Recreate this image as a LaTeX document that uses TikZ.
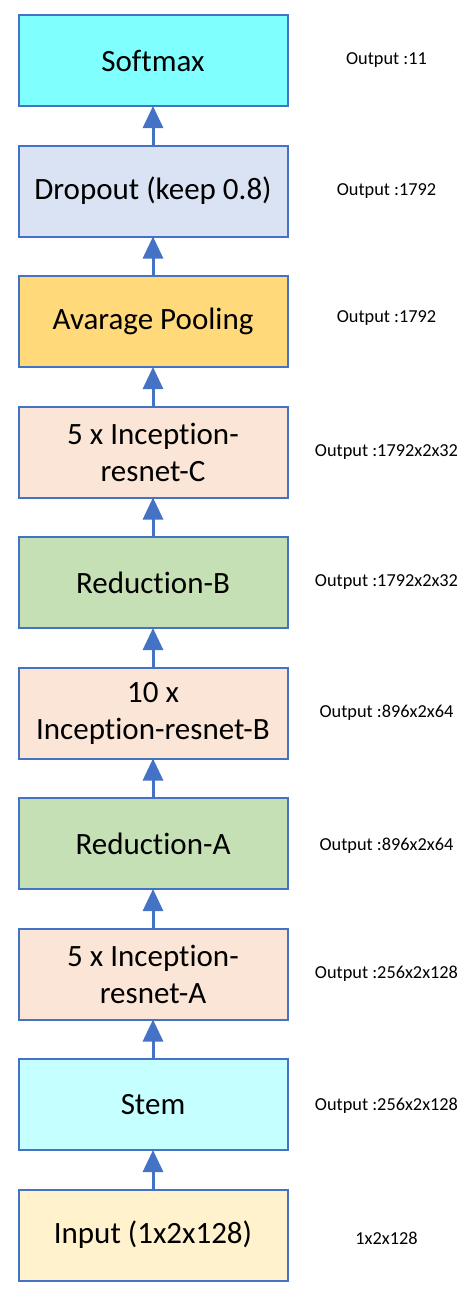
\documentclass[tikz,border=0pt]{standalone}
\usepackage{fontspec}
\setmainfont{Carlito}[Ligatures={NoCommon,NoRare,NoDiscretionary}]
\usetikzlibrary{arrows.meta}
\definecolor{bord}{HTML}{4472C4}
\definecolor{cSoft}{HTML}{80FFFF}
\definecolor{cDrop}{HTML}{DAE3F3}
\definecolor{cPool}{HTML}{FFD97A}
\definecolor{cInc}{HTML}{FBE5D6}
\definecolor{cRed}{HTML}{C5E0B4}
\definecolor{cStem}{HTML}{C5FFFF}
\definecolor{cIn}{HTML}{FFF2CC}
\tikzset{
  blk/.style={draw=bord, line width=2pt, minimum width=269pt, minimum height=91pt,
    inner sep=0pt, align=center, font=\fontsize{31}{37}\selectfont},
  lbl/.style={font=\fontsize{18.3}{22}\selectfont, inner sep=0pt},
  arr/.style={draw=bord, line width=3pt, -{Triangle[width=20pt,length=22pt]}, shorten <=-1pt, shorten >=-1pt}
}
\begin{document}
\begin{tikzpicture}[x=1pt,y=-1pt]
\useasboundingbox (0,0) rectangle (474,1293);
\node[blk, fill=cSoft] (b1) at (153,60.5) {Softmax};
\node[blk, fill=cDrop] (b2) at (153,191) {Dropout (keep 0.8)};
\node[blk, fill=cPool] (b3) at (153,321.5) {Avarage Pooling};
\node[blk, fill=cInc]  (b4) at (153,452) {5 x Inception-\\resnet-C};
\node[blk, fill=cRed]  (b5) at (153,582.5) {Reduction-B};
\node[blk, fill=cInc]  (b6) at (153,713) {10 x\\Inception-resnet-B};
\node[blk, fill=cRed]  (b7) at (153,843.5) {Reduction-A};
\node[blk, fill=cInc]  (b8) at (153,974) {5 x Inception-\\resnet-A};
\node[blk, fill=cStem] (b9) at (153,1104.5) {Stem};
\node[blk, fill=cIn]   (b10) at (153,1235) {Input (1x2x128)};
\node[lbl] (l1) at (386.5,60.5) {Output :11};
\node[lbl] (l2) at (386.5,191) {Output :1792};
\node[lbl] (l3) at (386.5,318) {Output :1792};
\node[lbl] (l4) at (386.5,452) {Output :1792x2x32};
\node[lbl] (l5) at (386.5,582.5) {Output :1792x2x32};
\node[lbl] (l6) at (386.5,713) {Output :896x2x64};
\node[lbl] (l7) at (386.5,846) {Output :896x2x64};
\node[lbl] (l8) at (386.5,974) {Output :256x2x128};
\node[lbl] (l9) at (386.5,1106) {Output :256x2x128};
\node[lbl] (l10) at (386.5,1238) {1x2x128};
\foreach \a/\b in {b2/b1,b3/b2,b4/b3,b5/b4,b6/b5,b7/b6,b8/b7,b9/b8,b10/b9}
  \draw[arr] (\a.north) -- (\b.south);
\end{tikzpicture}
\end{document}
